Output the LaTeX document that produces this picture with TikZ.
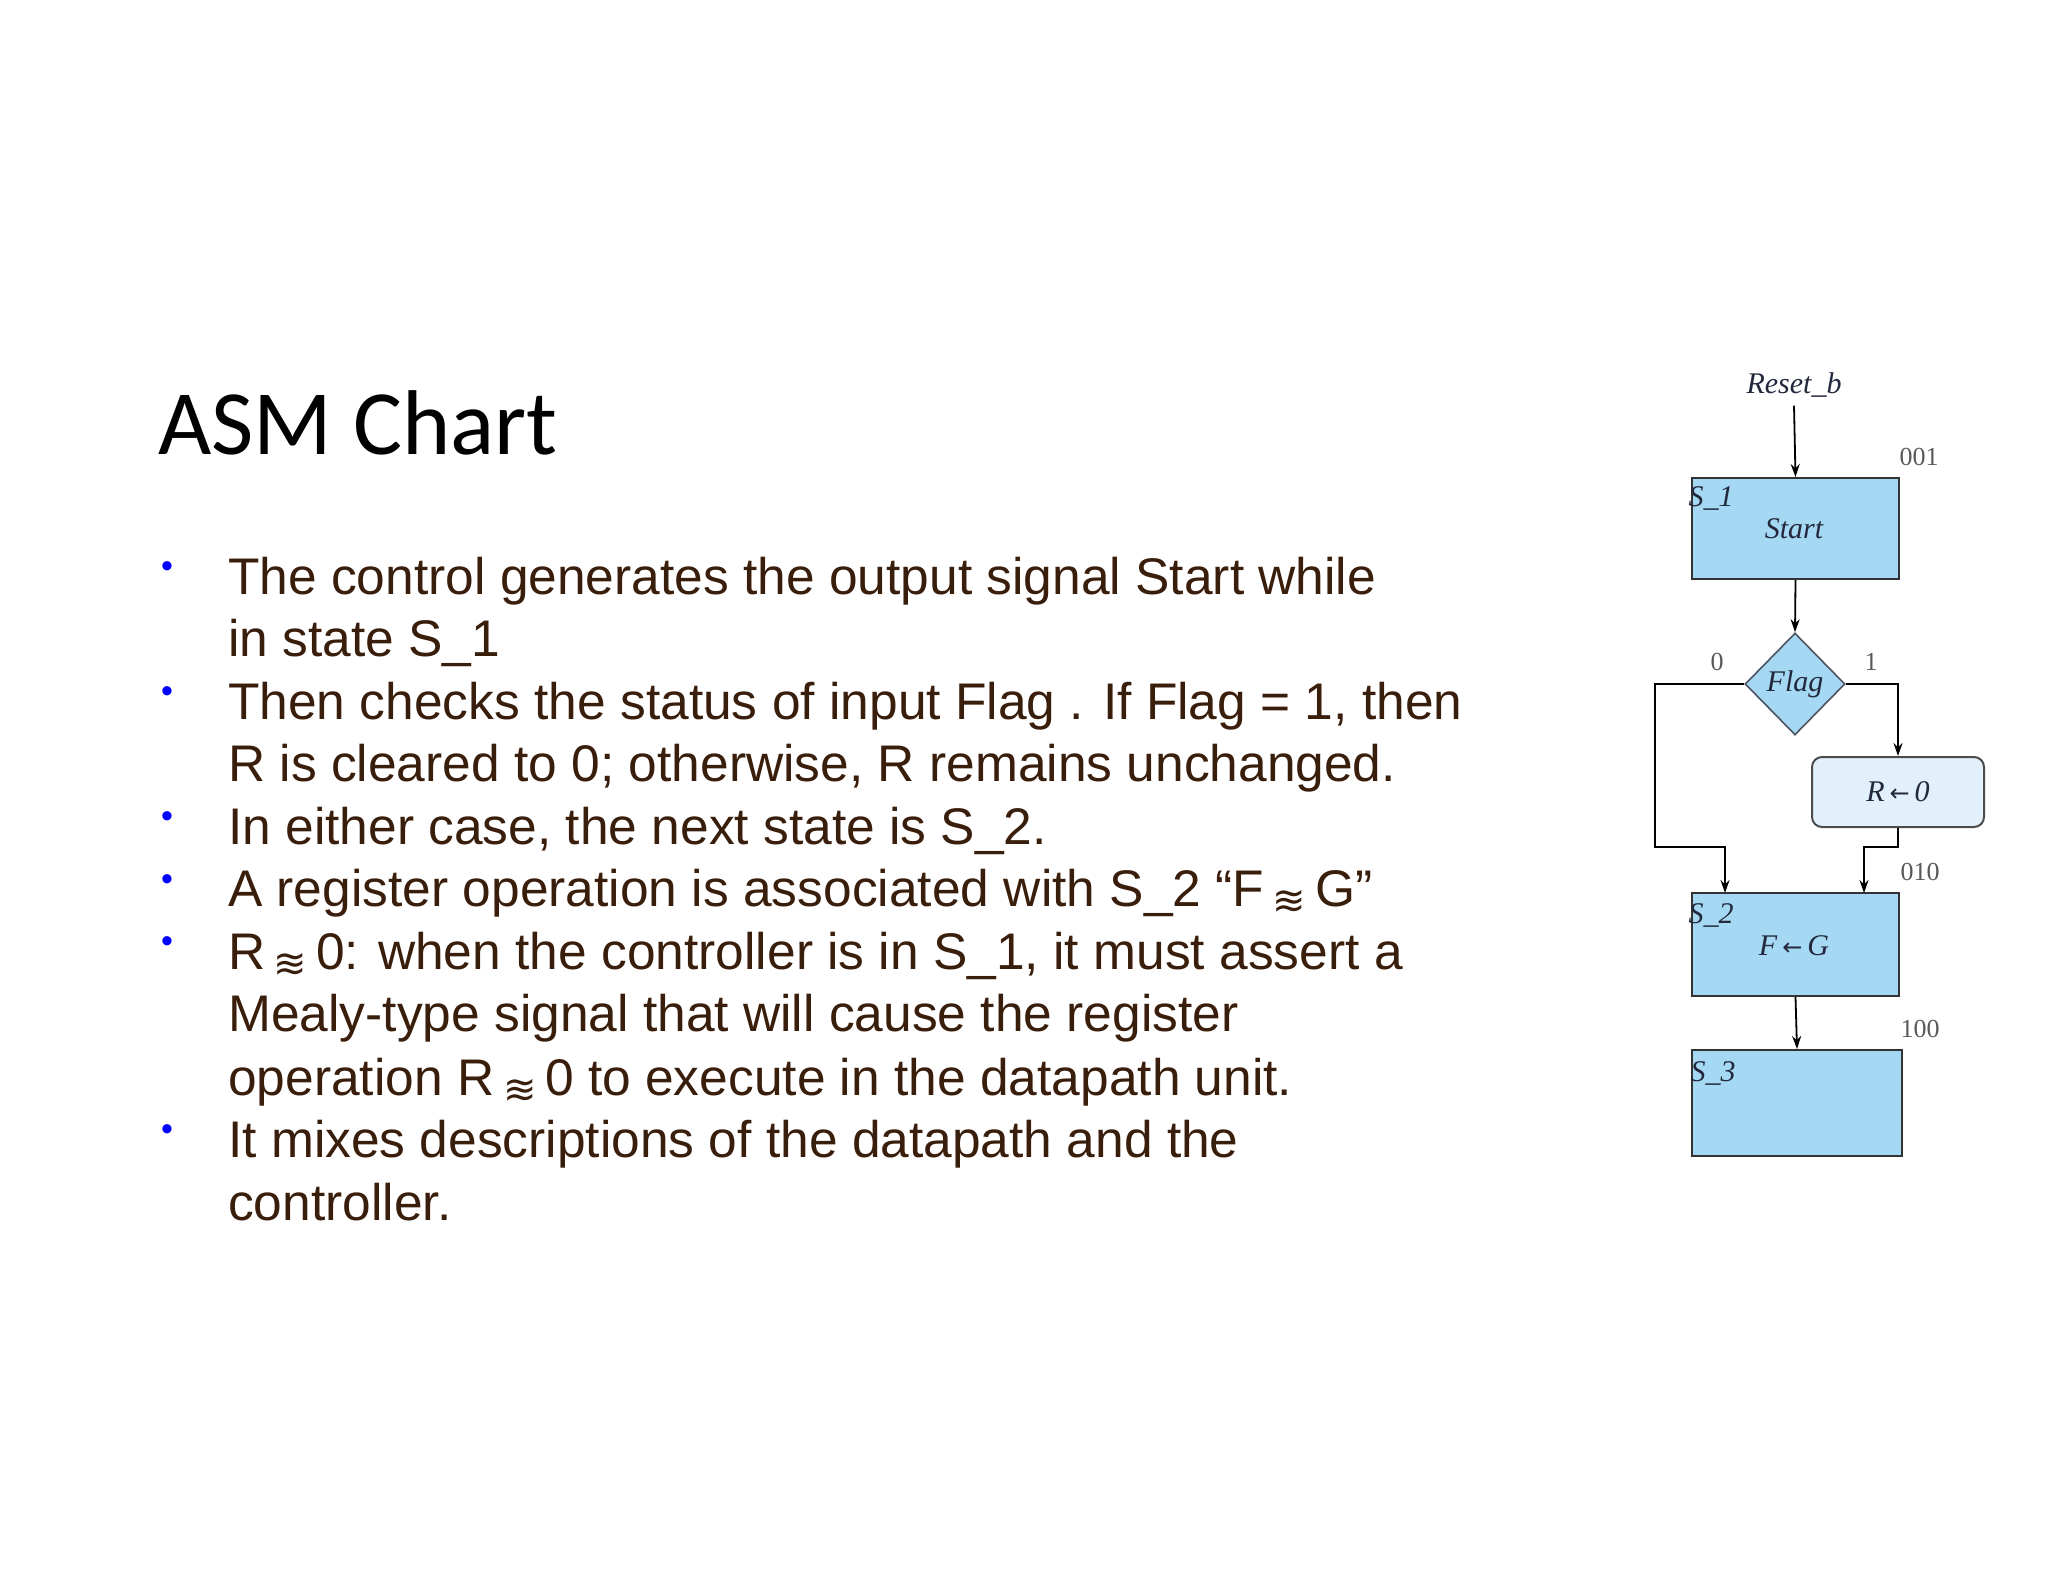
\documentclass[tikz,border=0pt]{standalone}
\usepackage{fontspec}
\setmainfont{Liberation Sans}
\newfontfamily\titlefont{Carlito}
\newfontfamily\chartfont{Liberation Serif}
\newfontfamily\symfont{DejaVu Sans}
\usetikzlibrary{arrows.meta,shapes.geometric}
\definecolor{txt}{RGB}{58,30,12}
\definecolor{stfill}{RGB}{165,216,242}
\definecolor{rfill}{RGB}{225,240,250}
\definecolor{ink}{RGB}{35,40,60}
\newcommand{\wv}{\,{\symfont\fontsize{40}{40}\selectfont\raisebox{-8pt}{≋}}\,}
\begin{document}
\begin{tikzpicture}[x=1pt,y=-1pt,
  line/.style={draw=black,line width=1.8pt},
  arr/.style={line,-{Stealth[length=13pt,width=9pt]}},
  stbox/.style={draw=black!80,line width=2pt,fill=stfill},
  ctext/.style={font=\chartfont\itshape\fontsize{30}{30}\selectfont,text=ink,inner sep=0pt},
  code/.style={font=\chartfont\fontsize{26}{26}\selectfont,text=gray!70!black,inner sep=0pt},
  bl/.style={anchor=base west,inner sep=0pt,font=\fontsize{51.5}{51.5}\selectfont,text=txt},
  bul/.style={anchor=base,inner sep=0pt,font=\fontsize{34}{34}\selectfont,text=blue}]
\useasboundingbox (0,0) rectangle (2048,1582);
\fill[white] (0,0) rectangle (2048,1582);
\node[anchor=base west,inner sep=0pt,font=\titlefont\fontsize{92}{92}\selectfont,text=black] (title) at (158,454) {ASM Chart};
\foreach \y/\t [count=\i] in {594/{The control generates the output signal Start while},
  656/{in state S\_1},
  719/{Then checks the status of input Flag . If Flag = 1, then},
  781/{R is cleared to 0; otherwise, R remains unchanged.},
  844/{In either case, the next state is S\_2.},
  906/{A register operation is associated with S\_2 “F\wv G”},
  969/{R\wv 0: when the controller is in S\_1, it must assert a},
  1031/{Mealy-type signal that will cause the register},
  1095/{operation R\wv 0 to execute in the datapath unit.},
  1157/{It mixes descriptions of the datapath and the},
  1220/{controller.}}
  {\node[bl] (l\i) at (228,\y) {\t};}
\foreach \y [count=\i] in {577,702,827,890,952,1140}
  {\node[bul] (b\i) at (167,\y) {•};}
% chart
\node[ctext] (reset) at (1794,385) {Reset\_b};
\node[stbox,minimum width=207pt,minimum height=101pt,inner sep=0pt] (s1) at (1795.5,528.5) {};
\node[stbox,minimum width=207pt,minimum height=103pt,inner sep=0pt] (s2) at (1795.5,944.5) {};
\node[stbox,minimum width=210pt,minimum height=106pt,inner sep=0pt] (s3) at (1797,1103) {};
\node[diamond,draw=ink!80,line width=1.6pt,fill=stfill,minimum width=100pt,minimum height=102pt,inner sep=0pt] (flag) at (1795,684) {};
\node[ctext] at (flag) {Flag};
\node[draw=gray!60!black,line width=2pt,fill=rfill,rounded corners=10pt,minimum width=172pt,minimum height=70pt,inner sep=0pt] (rb) at (1898,792) {};
\node[ctext] at (rb) {R\,{\symfont\fontsize{24}{24}\selectfont ←}\,0};
\node[ctext] at (1711,498) {S\_1};
\node[ctext] at (1794,529) {Start};
\node[ctext] at (1711,915) {S\_2};
\node[ctext] at (1794,946) {F\,{\symfont\fontsize{24}{24}\selectfont ←}\,G};
\node[ctext] at (1713,1073) {S\_3};
\node[code] at (1919,457) {001};
\node[code] at (1920,872) {010};
\node[code] at (1920,1029) {100};
\node[code] at (1717,662) {0};
\node[code] at (1871,662) {1};
\draw[arr] (reset.south) ++(0,8) -- (s1.north);
\draw[arr] (s1.south) -- (flag.north);
\draw[arr] (flag.west) -- (1655,684) -- (1655,847) -- (1725,847) -- (1725,893);
\draw[arr] (flag.east) -- (1898,684) -- (rb.north);
\draw[arr] (rb.south) -- (1898,847) -- (1864,847) -- (1864,893);
\draw[arr] (s2.south) -- (s3.north);
\end{tikzpicture}
\end{document}
